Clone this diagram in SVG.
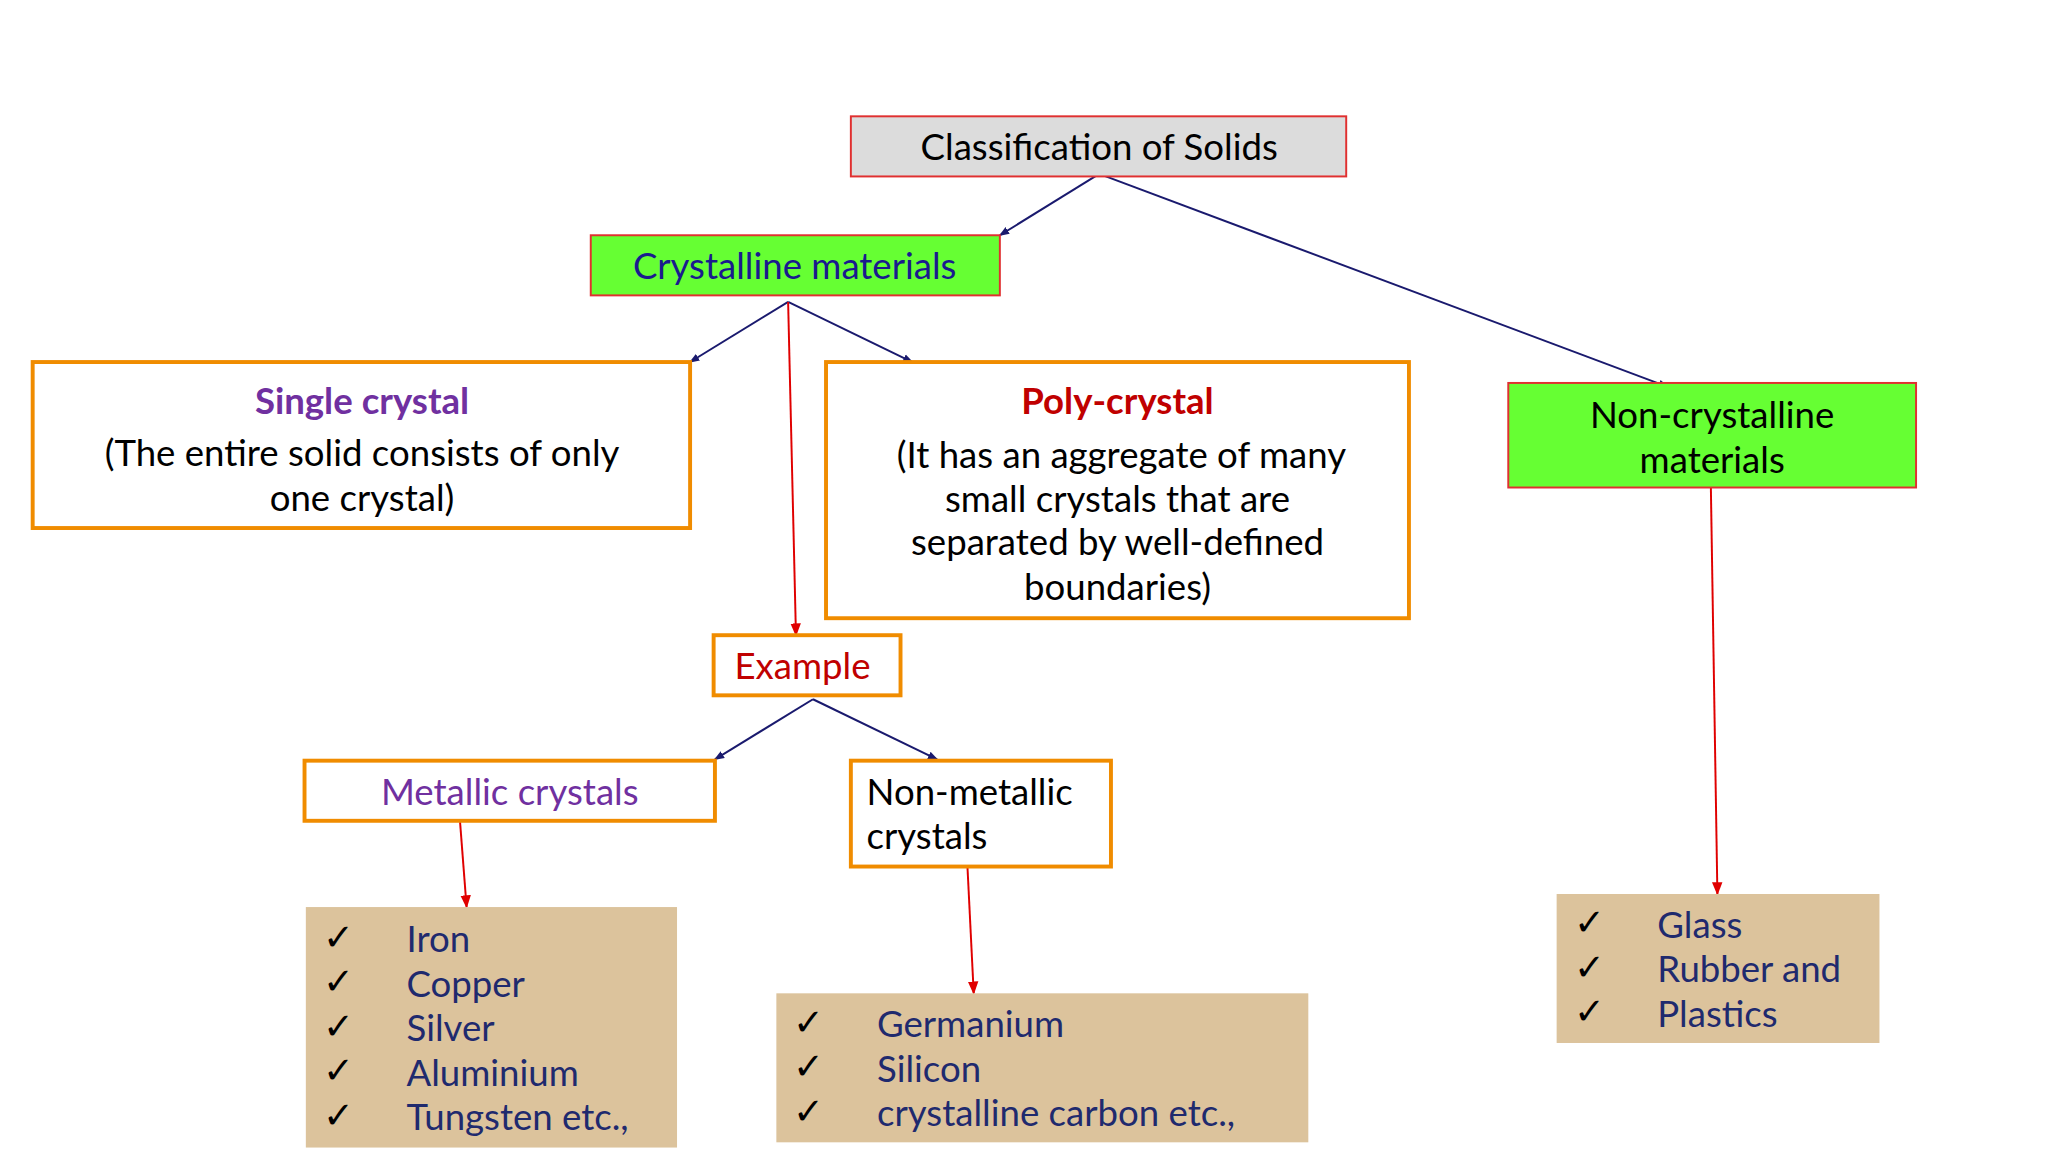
<svg xmlns="http://www.w3.org/2000/svg" width="2048" height="1170" viewBox="0 0 2048 1170">
<defs>
<marker id="an" markerWidth="8" markerHeight="8" refX="7" refY="4" orient="auto" markerUnits="userSpaceOnUse"><path d="M0,1 L8,4 L0,7 z" fill="#1a1a6e"/></marker>
<marker id="ar" markerWidth="10" markerHeight="10" refX="9" refY="5" orient="auto" markerUnits="userSpaceOnUse"><path d="M0,1 L10,5 L0,9 z" fill="#e00000"/></marker>
</defs>
<style>
text{font-family:"Comic Sans MS","Lato","Liberation Sans",sans-serif;font-size:28px;text-anchor:middle;dominant-baseline:central}
.g{fill:#66ff33;stroke:#e03030;stroke-width:1.5}
.o{fill:#fff;stroke:#f08c00;stroke-width:3}
.t{fill:#dcc39c}
.n{stroke:#1a1a6e;stroke-width:1.5;fill:none;marker-end:url(#an)}
.r{stroke:#e00000;stroke-width:1.5;fill:none;marker-end:url(#ar)}
.l{text-anchor:start;fill:#1f2a6e}
.c{text-anchor:start;fill:#000}
</style>
<rect width="2048" height="1170" fill="#fff"/>
<g transform="scale(1.307)">
<g id="connectors">
<line class="n" x1="841" y1="133" x2="765" y2="180"/>
<line class="n" x1="841" y1="133" x2="1276" y2="296"/>
<line class="n" x1="603" y1="231" x2="528" y2="277"/>
<line class="n" x1="603" y1="231" x2="698" y2="277"/>
<line class="n" x1="622" y1="535" x2="547" y2="581"/>
<line class="n" x1="622" y1="535" x2="717" y2="581"/>
<line class="r" x1="603" y1="231" x2="609" y2="486"/>
<line class="r" x1="352" y1="629" x2="357" y2="694"/>
<line class="r" x1="740" y1="659" x2="745" y2="760"/>
<line class="r" x1="1309" y1="373" x2="1314" y2="684"/>
</g>
<g id="title"><rect x="651" y="89" width="379" height="46" fill="#dcdcdc" stroke="#e03030" stroke-width="1.5"/><text x="841" y="112">Classification of Solids</text></g>
<g id="crystalline"><rect class="g" x="452" y="180" width="313" height="46"/><text x="608" y="203" fill="#1a1a8e">Crystalline materials</text></g>
<g id="single"><rect class="o" x="25" y="277" width="503" height="127"/><text x="277" y="306" font-size="38" font-weight="bold" fill="#7030a0">Single crystal</text><text x="277" y="346">(The entire solid consists of only</text><text x="277" y="380">one crystal)</text></g>
<g id="poly"><rect class="o" x="632" y="277" width="446" height="196"/><text x="855" y="306" font-size="38" font-weight="bold" fill="#c00000">Poly-crystal</text><text x="858" y="347">(It has an aggregate of many</text><text x="855" y="381">small crystals that are</text><text x="855" y="414">separated by well-defined</text><text x="855" y="448">boundaries)</text></g>
<g id="noncrystalline"><rect class="g" x="1154" y="293" width="312" height="80"/><text x="1310" y="317">Non-crystalline</text><text x="1310" y="351">materials</text></g>
<g id="example"><rect class="o" x="546" y="486" width="143" height="46"/><text x="614" y="509" fill="#c00000">Example</text></g>
<g id="metallic"><rect class="o" x="233" y="582" width="314" height="46"/><text x="390" y="605" fill="#7030a0">Metallic crystals</text></g>
<g id="nonmetallic"><rect class="o" x="651" y="582" width="199" height="81"/><text class="c" x="663" y="605">Non-metallic</text><text class="c" x="663" y="639">crystals</text></g>
<g id="metals"><rect class="t" x="234" y="694" width="284" height="184"/>
<text class="c" x="247" y="716">✓</text><text class="c" x="247" y="750">✓</text><text class="c" x="247" y="784">✓</text><text class="c" x="247" y="818">✓</text><text class="c" x="247" y="852">✓</text>
<text class="l" x="311" y="718">Iron</text><text class="l" x="311" y="752">Copper</text><text class="l" x="311" y="786">Silver</text><text class="l" x="311" y="820">Aluminium</text><text class="l" x="311" y="854">Tungsten etc.,</text></g>
<g id="nonmetals"><rect class="t" x="594" y="760" width="407" height="114"/>
<text class="c" x="607" y="781">✓</text><text class="c" x="607" y="815">✓</text><text class="c" x="607" y="849">✓</text>
<text class="l" x="671" y="783">Germanium</text><text class="l" x="671" y="817">Silicon</text><text class="l" x="671" y="851">crystalline carbon etc.,</text></g>
<g id="amorphous"><rect class="t" x="1191" y="684" width="247" height="114"/>
<text class="c" x="1204" y="705">✓</text><text class="c" x="1204" y="739">✓</text><text class="c" x="1204" y="773">✓</text>
<text class="l" x="1268" y="707">Glass</text><text class="l" x="1268" y="741">Rubber and</text><text class="l" x="1268" y="775">Plastics</text></g>
</g>
</svg>
